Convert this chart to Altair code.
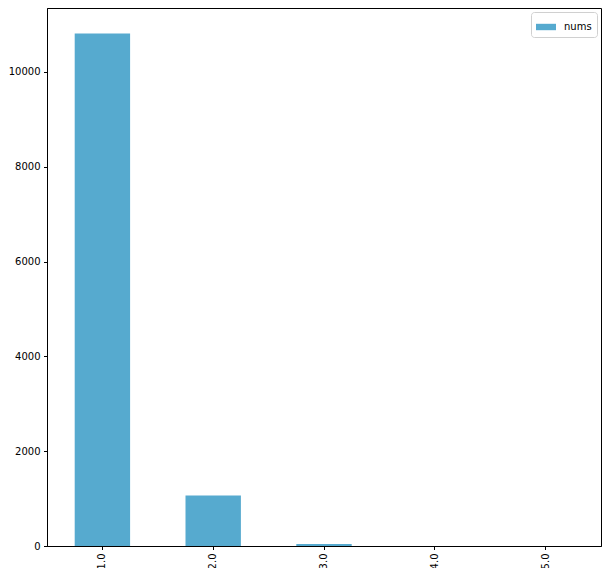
import altair as alt
import pandas as pd

categories = ["1.0", "2.0", "3.0", "4.0", "5.0"]
nums = [10810, 1065, 40, 2, 1]

df = pd.DataFrame({"cat": categories, "nums": nums, "series": ["nums"] * len(categories)})

bars = alt.Chart(df).mark_bar(color="#56aacf").encode(
    x=alt.X("cat:N", sort=categories, title=None,
            scale=alt.Scale(paddingInner=0.5, paddingOuter=0.25),
            axis=alt.Axis(labelAngle=270, labelAlign="right", labelBaseline="middle",
                          labelPadding=3.5)),
    y=alt.Y("nums:Q", title=None,
            scale=alt.Scale(domain=[0, 11350], nice=False),
            axis=alt.Axis(values=[0, 2000, 4000, 6000, 8000, 10000], format="d",
                          labelPadding=3.5)),
    color=alt.Color("series:N", scale=alt.Scale(range=["#56aacf"]),
                    legend=alt.Legend(title=None, orient="top-right", offset=4,
                                      strokeColor="#d0d0d0", cornerRadius=3,
                                      padding=5, fillColor="white",
                                      symbolType="M-1,-0.32L1,-0.32L1,0.32L-1,0.32Z",
                                      symbolSize=400, symbolStrokeWidth=0,
                                      labelOffset=8,
                                      labelFontSize=10, labelFont="DejaVu Sans",
                                      labelColor="black")),
)

chart = bars.properties(
    width=554, height=538,
    autosize=alt.AutoSizeParams(type="none"),
    padding={"left": 39, "top": 0, "right": 1, "bottom": 22},
).configure_view(
    stroke="black", strokeWidth=1
).configure_axis(
    domainColor="black", tickColor="black", tickSize=3.5, labelColor="black",
    labelFont="DejaVu Sans", labelFontSize=10, grid=False, domainWidth=1,
)

chart.save("out.html", embed_options={"renderer": "svg", "actions": False})
